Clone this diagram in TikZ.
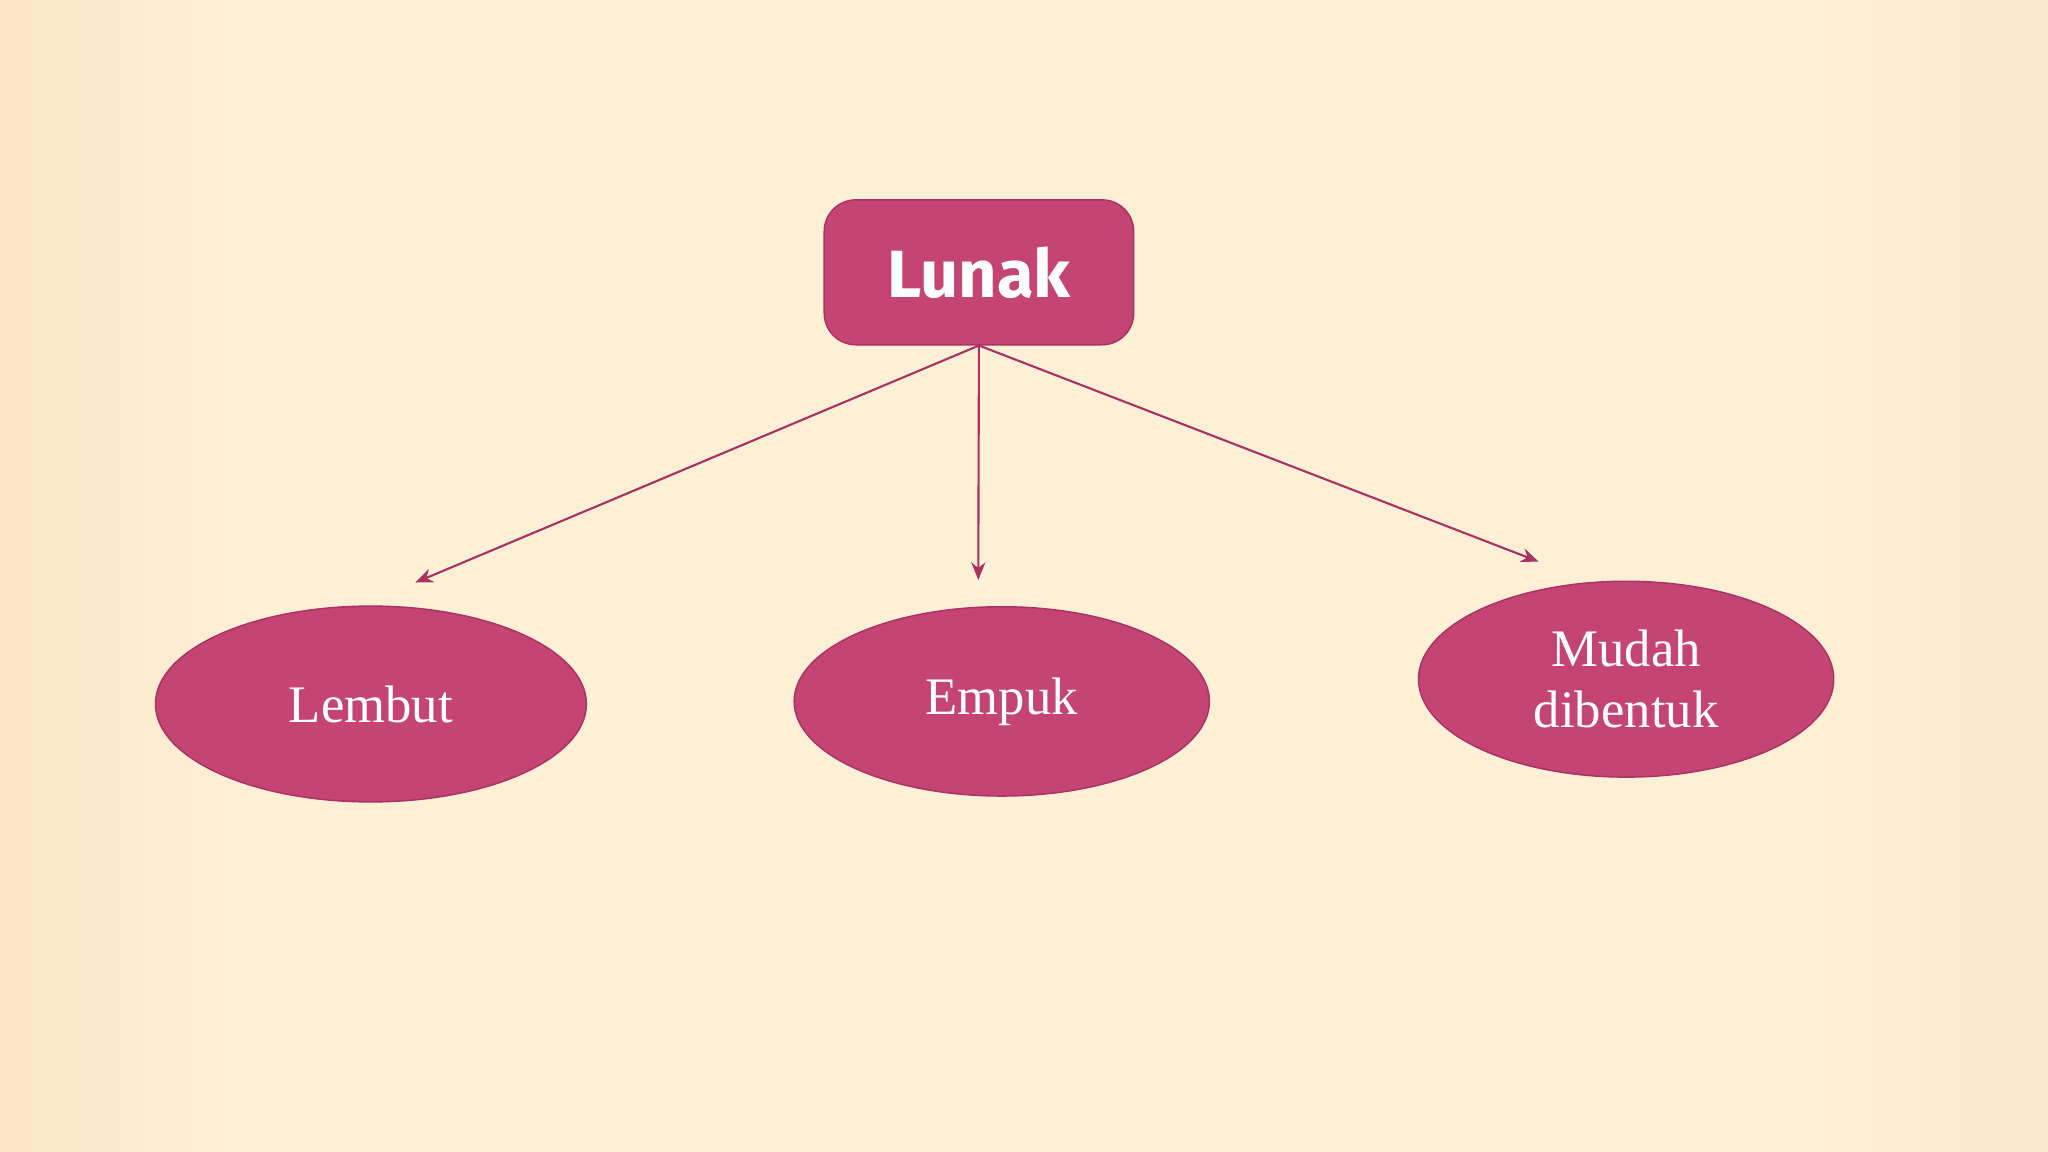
\documentclass[tikz,border=0pt]{standalone}
\usepackage{fontspec}
\setmainfont{Liberation Serif}
\newfontfamily\lunakfont{Fira Sans}
\usetikzlibrary{shapes.geometric,arrows.meta}
\definecolor{bg}{HTML}{FEF0D6}
\definecolor{bgedge}{HTML}{FCE2C2}
\definecolor{mag}{HTML}{C44474}
\definecolor{magline}{HTML}{A83262}
\tikzset{
  box/.style={draw=magline, fill=mag, rounded corners=9pt, minimum width=237*0.3716pt, minimum height=111*0.3716pt, text=white, font=\lunakfont\bfseries\fontsize{19}{22}\selectfont},
  ell/.style={draw=magline, fill=mag, ellipse, inner sep=0pt, text=white, align=center, font=\fontsize{15}{17.5}\selectfont},
  conn/.style={draw=magline, line width=0.6pt, -{Stealth[length=5pt,width=4pt]}}
}
\begin{document}
\begin{tikzpicture}[x=0.013061cm,y=-0.013061cm]
\useasboundingbox (0,0) rectangle (1568,882);
\fill[bg] (0,0) rectangle (1568,882);
\shade[left color=bgedge, right color=bg, opacity=0.8] (0,0) rectangle (180,882);
\shade[left color=bg, right color=bgedge, opacity=0.6] (1388,0) rectangle (1568,882);
\node[box] (top) at (749.5,208.5) {Lunak};
\node[ell, minimum width=330*0.3716pt, minimum height=150*0.3716pt] (a) at (284,539) {Lembut};
\node[ell, minimum width=318*0.3716pt, minimum height=145*0.3716pt] (b) at (767,537) {Empuk};
\node[ell, minimum width=318*0.3716pt, minimum height=150*0.3716pt] (c) at (1245,520) {Mudah\\dibentuk};
\coordinate (ea) at (318,446);
\coordinate (eb) at (749,444);
\coordinate (ec) at (1178,430);
\draw[conn] (top.south) -- (ea);
\draw[conn] (top.south) -- (eb);
\draw[conn] (top.south) -- (ec);
\end{tikzpicture}
\end{document}
